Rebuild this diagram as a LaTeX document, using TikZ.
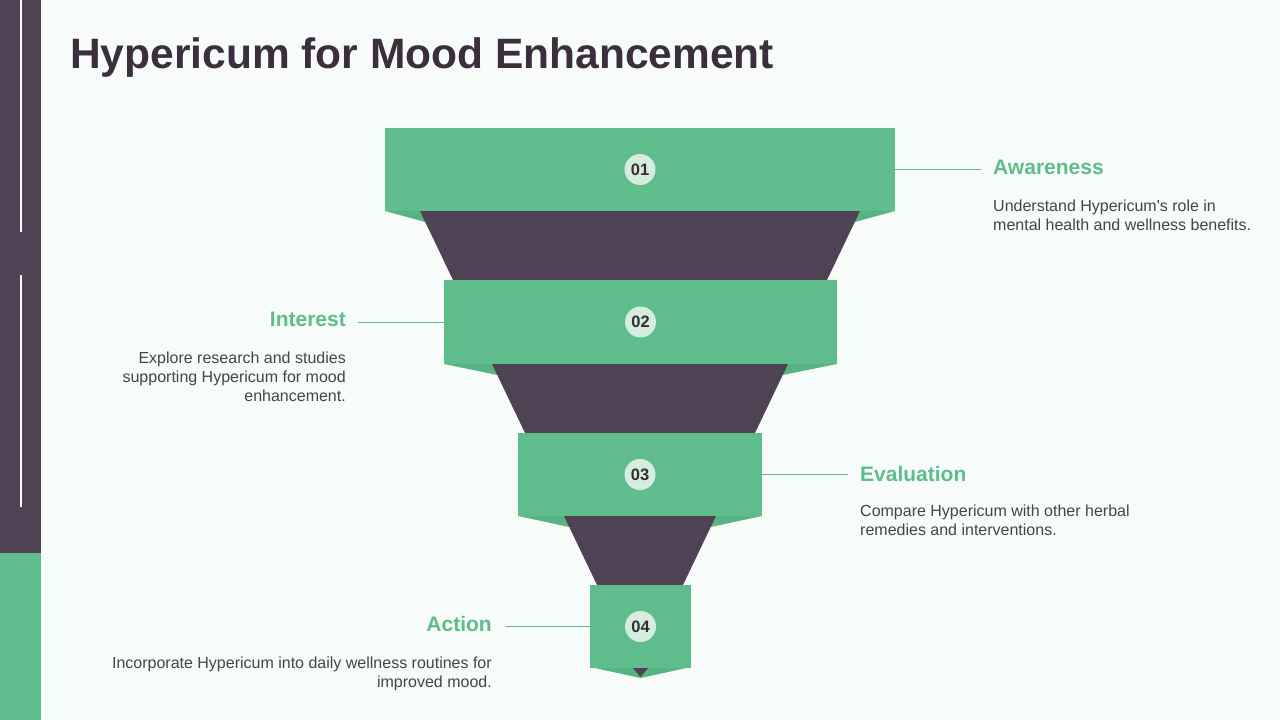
\documentclass[tikz,border=0pt]{standalone}
\usepackage{fontspec}
\setmainfont{Liberation Sans}[Ligatures=TeXOff]
\definecolor{grn}{HTML}{5FBD8B}
\definecolor{grnd}{HTML}{57B382}
\definecolor{pur}{HTML}{4F4255}
\definecolor{bg}{HTML}{F7FBFA}
\definecolor{circ}{HTML}{D6ECDF}
\definecolor{ttl}{HTML}{3B2F3D}
\definecolor{txt}{HTML}{454545}
\definecolor{num}{HTML}{2F2F2F}
\tikzset{
 band/.style={fill=grn, draw=none, inner sep=0, rectangle},
 numc/.style={circle, fill=circ, minimum size=31, inner sep=0, font=\fontsize{16.5}{16.5}\selectfont\bfseries, text=num},
 head/.style={font=\fontsize{21}{21}\selectfont\bfseries, text=grn, inner sep=0},
 desc/.style={font=\fontsize{16}{19}\selectfont, text=txt, inner sep=0},
 conn/.style={draw=grn, line width=1},
}
\begin{document}
\begin{tikzpicture}[x=1pt,y=-1pt]
\fill[bg] (0,0) rectangle (1280,720);
\useasboundingbox (0,0) rectangle (1280,720);
% left bar
\fill[pur] (0,0) rectangle (41,553);
\fill[grn] (0,553) rectangle (41,720);
\draw[white, line width=2] (20.5,0) -- (20.5,232);
\draw[white, line width=2] (20.5,275) -- (20.5,507);
% title
\node[anchor=base west, inner sep=0, font=\fontsize{42.5}{50}\selectfont\bfseries, text=ttl] (title) at (70,68) {Hypericum for Mood Enhancement};
% flaps
\fill[grnd] (385,211) -- (425.3,222) -- (425.3,211) -- cycle;
\fill[grnd] (895,211) -- (854.7,222) -- (854.7,211) -- cycle;
\fill[grnd] (444,364) -- (497.3,375) -- (497.3,364) -- cycle;
\fill[grnd] (837,364) -- (782.7,375) -- (782.7,364) -- cycle;
\fill[grnd] (518,516) -- (569.3,527) -- (569.3,516) -- cycle;
\fill[grnd] (762,516) -- (710.7,527) -- (710.7,516) -- cycle;
% purple funnel pieces
\fill[pur] (420,211) -- (860,211) -- (827,280) -- (453,280) -- cycle;
\fill[pur] (492,364) -- (788,364) -- (755,433) -- (525,433) -- cycle;
\fill[pur] (564,516) -- (716,516) -- (683,585) -- (597,585) -- cycle;
% bottom chevron
\fill[grnd] (590,667) -- (691,667) -- (640.5,678) -- cycle;
\fill[pur] (632,667) -- (649,667) -- (640.5,677) -- cycle;
% bands
\node[band, minimum width=510, minimum height=83] (b1) at (640,169.5) {};
\node[band, minimum width=393, minimum height=84] (b2) at (640.5,322) {};
\node[band, minimum width=244, minimum height=83] (b3) at (640,474.5) {};
\node[band, minimum width=101, minimum height=83] (b4) at (640.5,626.5) {};
% numbers
\node[numc] (n1) at (b1.center) {01};
\node[numc] (n2) at (b2.center) {02};
\node[numc] (n3) at (b3.center) {03};
\node[numc] (n4) at (b4.center) {04};
% labels
\node[head, anchor=base west] (l1) at (993,174.5) {Awareness};
\node[desc, anchor=north west, align=left] (d1) at (993,200) {Understand Hypericum's role in\\mental health and wellness benefits.};
\node[head, anchor=base east] (l2) at (346,326.5) {Interest};
\node[desc, anchor=north east, align=right] (d2) at (346,351.5) {Explore research and studies\\supporting Hypericum for mood\\enhancement.};
\node[head, anchor=base west] (l3) at (860,481.5) {Evaluation};
\node[desc, anchor=north west, align=left] (d3) at (860,504.5) {Compare Hypericum with other herbal\\remedies and interventions.};
\node[head, anchor=base east] (l4) at (492,631.5) {Action};
\node[desc, anchor=north east, align=right] (d4) at (492,656.5) {Incorporate Hypericum into daily wellness routines for\\improved mood.};
% connectors
\coordinate (e1) at (981,169.5);
\coordinate (e2) at (358,322);
\coordinate (e3) at (848,474.5);
\coordinate (e4) at (506,626.5);
\draw[conn] (b1.east) -- (e1);
\draw[conn] (e2) -- (b2.west);
\draw[conn] (b3.east) -- (e3);
\draw[conn] (e4) -- (b4.west);
\end{tikzpicture}
\end{document}
